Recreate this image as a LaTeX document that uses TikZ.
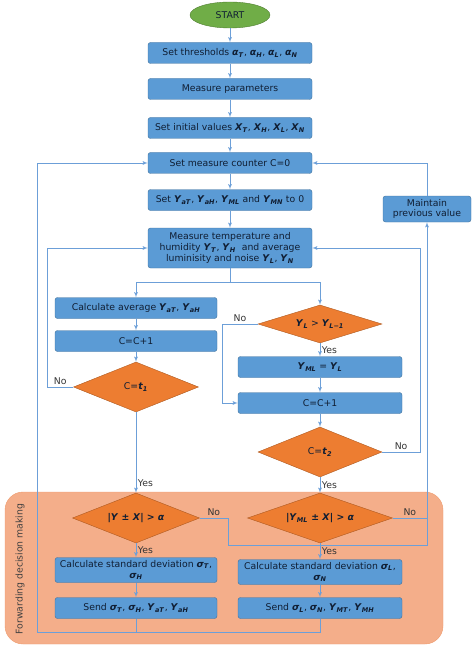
\documentclass[tikz,border=0pt]{standalone}
\usepackage{fontspec}
\setmainfont{DejaVu Sans}
\usetikzlibrary{shapes,arrows,positioning,calc}
\definecolor{boxblue}{HTML}{5B9BD5}
\definecolor{boxedge}{HTML}{41719C}
\definecolor{decfill}{HTML}{ED7D31}
\definecolor{decedge}{HTML}{AE5A21}
\definecolor{linkblue}{HTML}{6C9FD8}
\definecolor{zonefill}{HTML}{F4AE8A}
\definecolor{zoneedge}{HTML}{EE9A6C}
\definecolor{startfill}{HTML}{70AD47}
\definecolor{startedge}{HTML}{507E32}
\definecolor{boxtext}{HTML}{101E33}
\newcommand{\varsym}[2]{\textbf{\textit{#1}}\textsubscript{\textbf{\textit{#2}}}}
\tikzset{
block/.style = {draw=boxedge, fill=boxblue, rectangle, rounded corners=2.5pt, minimum height=21pt, minimum width=164pt, align=center, text=boxtext, inner sep=2pt},
decision/.style = {draw=decedge, fill=decfill, diamond, aspect=2.5, inner sep=0pt, minimum width=125pt, minimum height=50pt, text=boxtext},
startnode/.style = {draw=startedge, fill=startfill, ellipse, minimum width=80pt, minimum height=26pt, text=boxtext},
tmp/.style = {coordinate},
link/.style = {draw=linkblue, line width=0.8pt},
tag/.style = {text=black!80, inner sep=1.5pt}
}
\begin{document}
\begin{tikzpicture}[x=1pt, y=-1pt, auto, >=latex', font=\fontsize{9.3}{10.8}\selectfont]
\useasboundingbox (0,0) rectangle (474,647);
% forwarding decision zone
\draw[zoneedge, fill=zonefill, rounded corners=18pt] (5,492) rectangle (443,644);
\node[rotate=90, text=black!75] (zonelabel) at (20,569) {Forwarding decision making};
% main column
\node[startnode] (start) at (230,15) {START};
\node[block, below of=start, node distance=38pt] (thresh) {Set thresholds \varsym{α}{T}, \varsym{α}{H}, \varsym{α}{L}, \varsym{α}{N}};
\node[block, below of=thresh, node distance=36pt] (measpar) {Measure parameters};
\node[block, below of=measpar, node distance=39pt] (initval) {Set initial values \varsym{X}{T}, \varsym{X}{H}, \varsym{X}{L}, \varsym{X}{N}};
\node[block, below of=initval, node distance=35pt] (counter) {Set measure counter C=0};
\node[block, below of=counter, node distance=37pt] (resety) {Set \varsym{Y}{aT}, \varsym{Y}{aH}, \varsym{Y}{ML} and \varsym{Y}{MN} to 0};
\node[block, below of=resety, node distance=48pt, minimum height=40pt] (meastemp) {Measure temperature and\\humidity \varsym{Y}{T}, \varsym{Y}{H}\ \ and average\\luminisity and noise \varsym{Y}{L}, \varsym{Y}{N}};
\node[block, minimum width=88pt, minimum height=26pt] (maintain) at (427,209) {Maintain\\previous value};
% left column
\node[block, minimum width=162pt] (calcavg) at (136,308) {Calculate average \varsym{Y}{aT}, \varsym{Y}{aH}};
\node[block, minimum width=162pt, below of=calcavg, node distance=33pt] (countl) {C=C+1};
\node[decision, below of=countl, node distance=46pt] (limitl) {C=\varsym{t}{1}};
\node[decision, minimum width=127pt] (checkl) at (136,518) {\textbf{|\textit{Y} ± \textit{X}| > \textit{α}}};
\node[block, minimum width=162pt, minimum height=25pt, below of=checkl, node distance=52pt] (stdl) {Calculate standard deviation \varsym{σ}{T},\\\varsym{σ}{H}};
\node[block, minimum width=162pt, below of=stdl, node distance=38pt] (sendl) {Send \varsym{σ}{T}, \varsym{σ}{H}, \varsym{Y}{aT}, \varsym{Y}{aH}};
% right column
\node[decision, minimum width=124pt, minimum height=38pt] (lumcheck) at (320,324) {\varsym{Y}{L} > \varsym{Y}{L−1}};
\node[block, below of=lumcheck, node distance=43pt] (setml) {\varsym{Y}{ML} = \varsym{Y}{L}};
\node[block, below of=setml, node distance=36pt] (countr) {C=C+1};
\node[decision, minimum width=124pt, below of=countr, node distance=49pt] (limitr) {C=\varsym{t}{2}};
\node[decision, minimum width=145pt] (checkr) at (320,518) {\textbf{|\textit{Y}\textsubscript{\textit{ML}} ± \textit{X}| > \textit{α}}};
\node[block, minimum height=25pt, below of=checkr, node distance=54pt] (stdr) {Calculate standard deviation \varsym{σ}{L},\\\varsym{σ}{N}};
\node[block, below of=stdr, node distance=36pt] (sendr) {Send \varsym{σ}{L}, \varsym{σ}{N}, \varsym{Y}{MT}, \varsym{Y}{MH}};
% corner points
\node[tmp] (split) at (230,282) {};
\node[tmp] (leftbus) at (47,387) {};
\node[tmp] (outerbus) at (37,632) {};
\node[tmp] (lumno) at (222,324) {};
\node[tmp] (rightbus) at (420,452) {};
\node[tmp] (holdbus) at (427,518) {};
\node[tmp] (holdjoin) at (427,545) {};
\node[tmp] (checkno) at (228,518) {};
% connectors
\draw[->,link] (start) -- (thresh);
\draw[->,link] (thresh) -- (measpar);
\draw[->,link] (measpar) -- (initval);
\draw[->,link] (initval) -- (counter);
\draw[->,link] (counter) -- (resety);
\draw[->,link] (resety) -- (meastemp);
\draw[link] (meastemp) -- (split);
\draw[->,link] (split) -| (calcavg);
\draw[->,link] (split) -| (lumcheck);
\draw[->,link] (calcavg) -- (countl);
\draw[->,link] (countl) -- (limitl);
\draw[->,link] (limitl) -- node[tag, above] {No} (leftbus) |- (meastemp);
\draw[->,link] (limitl) -- node[tag, right, pos=0.88] {Yes} (checkl);
\draw[->,link] (checkl) -- node[tag, right] {Yes} (stdl);
\draw[->,link] (stdl) -- (sendl);
\draw[link] (sendl) -- (sendl |- outerbus);
\draw[->,link] (lumcheck) -- node[tag, right] {Yes} (setml);
\draw[->,link] (lumcheck) -- node[tag, above] {No} (lumno) |- (countr);
\draw[->,link] (setml) -- (countr);
\draw[->,link] (countr) -- (limitr);
\draw[->,link] (limitr) -- node[tag, above] {No} (rightbus) |- (meastemp);
\draw[->,link] (limitr) -- node[tag, right] {Yes} (checkr);
\draw[->,link] (checkr) -- node[tag, right] {Yes} (stdr);
\draw[->,link] (stdr) -- (sendr);
\draw[->,link] (sendr) |- (outerbus) |- (counter);
\draw[link] (checkr) -- node[tag, above] {No} (holdbus);
\draw[->,link] (checkl) -- node[tag, above] {No} (checkno) |- (holdjoin) -- (maintain);
\draw[->,link] (maintain) |- (counter);
\end{tikzpicture}
\end{document}
